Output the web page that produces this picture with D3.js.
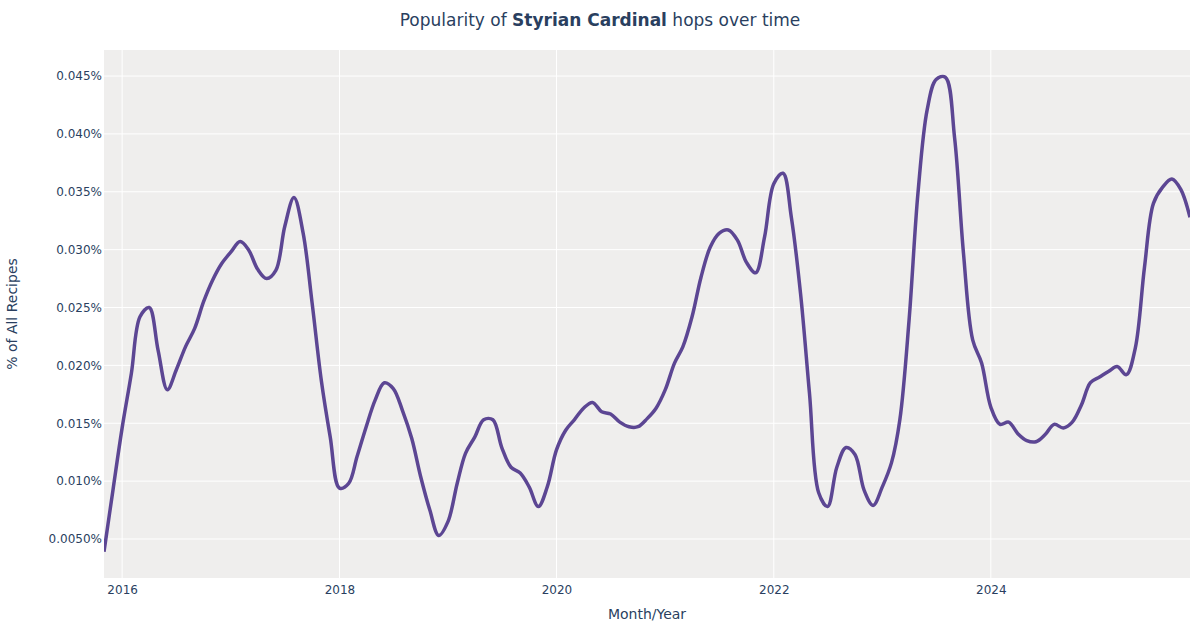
<!DOCTYPE html>
<html>
<head>
<meta charset="utf-8">
<script src="https://cdn.jsdelivr.net/npm/d3@7"></script>
<style>
  body { margin: 0; background: #fff; }
  text { font-family: "DejaVu Sans", sans-serif; fill: #2a3f5f; }
</style>
</head>
<body>
<svg id="chart" width="1200" height="630"></svg>
<script>
// monthly share of recipes (%), Nov 2015 .. Nov 2025
var startMonth = "2015-11"
var values = [
  0.0039, 0.0092,
  0.0146, 0.0193, 0.0242, 0.0250, 0.0213, 0.0179, 0.0196, 0.0216, 0.0232, 0.0255, 0.0274, 0.0288,
  0.0298, 0.0307, 0.0300, 0.0283, 0.0275, 0.0282, 0.0320, 0.0345, 0.0314, 0.0254, 0.0187, 0.0138,
  0.0094, 0.0098, 0.0121, 0.0147, 0.0170, 0.0185, 0.0180, 0.0161, 0.0137, 0.0104, 0.0075, 0.0053,
  0.0065, 0.0098, 0.0124, 0.0138, 0.0153, 0.0153, 0.0129, 0.0112, 0.0107, 0.0095, 0.0078, 0.0095,
  0.0127, 0.0144, 0.0153, 0.0163, 0.0168, 0.0160, 0.0158, 0.0151, 0.0147, 0.0147, 0.0154, 0.0163,
  0.0179, 0.0202, 0.0216, 0.0242, 0.0276, 0.0302, 0.0314, 0.0317, 0.0308, 0.0289, 0.0280, 0.0311,
  0.0357, 0.0366, 0.0328, 0.0262, 0.0176, 0.0090, 0.0078, 0.0112, 0.0129, 0.0123, 0.0092, 0.0079,
  0.0095, 0.0116, 0.0153, 0.0239, 0.0349, 0.0421, 0.0447, 0.0449, 0.0397, 0.0297, 0.0222, 0.0202,
  0.0164, 0.0149, 0.0151, 0.0141, 0.0135, 0.0134, 0.0140, 0.0149, 0.0146, 0.0151, 0.0166, 0.0185,
  0.0190, 0.0195, 0.0199, 0.0192, 0.0215, 0.0285, 0.0340, 0.0354, 0.0361, 0.0352, 0.0328
]
var yTicks = [0.005, 0.010, 0.015, 0.020, 0.025, 0.030, 0.035, 0.040, 0.045]
var yTickLabels = ["0.0050%", "0.010%", "0.015%", "0.020%", "0.025%", "0.030%", "0.035%", "0.040%", "0.045%"]
var xTickYears = [2016, 2018, 2020, 2022, 2024]

var parseMonth = d3.timeParse("%Y-%m")
var t0 = parseMonth(startMonth)
var data = values.map((v, i) => ({ date: d3.timeMonth.offset(t0, i), value: v }))

var dimensions = {
    width: 1200,
    height: 630,
    margin: { top: 50, bottom: 52, left: 104, right: 10 }
}
var plotW = dimensions.width - dimensions.margin.left - dimensions.margin.right
var plotH = dimensions.height - dimensions.margin.top - dimensions.margin.bottom

var svg = d3.select("#chart")

var xScale = d3.scaleTime()
        .domain(d3.extent(data, d => d.date))
        .range([dimensions.margin.left, dimensions.margin.left + plotW])

var yScale = d3.scaleLinear()
        .domain([0.00163, 0.04725])
        .range([dimensions.margin.top + plotH, dimensions.margin.top])

svg.append("rect")
        .attr("x", dimensions.margin.left)
        .attr("y", dimensions.margin.top)
        .attr("width", plotW)
        .attr("height", plotH)
        .attr("fill", "#efeeed")

// grid
svg.append("g")
        .selectAll("line")
        .data(yTicks)
        .enter()
        .append("line")
        .attr("x1", dimensions.margin.left)
        .attr("x2", dimensions.margin.left + plotW)
        .attr("y1", d => yScale(d))
        .attr("y2", d => yScale(d))
        .attr("stroke", "#fff")
        .attr("stroke-width", 1)

var xTickDates = xTickYears.map(y => new Date(y, 0, 1))
svg.append("g")
        .selectAll("line")
        .data(xTickDates)
        .enter()
        .append("line")
        .attr("x1", d => xScale(d))
        .attr("x2", d => xScale(d))
        .attr("y1", dimensions.margin.top)
        .attr("y2", dimensions.margin.top + plotH)
        .attr("stroke", "#fff")
        .attr("stroke-width", 1)

// axes
var xAxisGen = d3.axisBottom(xScale).tickValues(xTickDates).tickFormat(d3.timeFormat("%Y")).tickSize(0).tickPadding(7)
var xAxis = svg.append("g")
        .attr("transform", `translate(0,${dimensions.margin.top + plotH})`)
        .call(xAxisGen)
xAxis.select(".domain").remove()
xAxis.selectAll("text").style("font-size", "12px").style("fill", "#2a3f5f")

var yAxisGen = d3.axisLeft(yScale).tickValues(yTicks).tickFormat((d, i) => yTickLabels[i]).tickSize(0).tickPadding(2)
var yAxis = svg.append("g")
        .attr("transform", `translate(${dimensions.margin.left},0)`)
        .call(yAxisGen)
yAxis.select(".domain").remove()
yAxis.selectAll("text").style("font-size", "12px").style("fill", "#2a3f5f")

// line
var clip = svg.append("clipPath").attr("id", "plotclip")
        .append("rect")
        .attr("x", dimensions.margin.left)
        .attr("y", dimensions.margin.top)
        .attr("width", plotW)
        .attr("height", plotH)

var lineGen = d3.line()
        .x(d => xScale(d.date))
        .y(d => yScale(d.value))
        .curve(d3.curveCatmullRom.alpha(0.5))

svg.append("path")
        .datum(data)
        .attr("clip-path", "url(#plotclip)")
        .attr("d", lineGen)
        .attr("fill", "none")
        .attr("stroke", "#5c4693")
        .attr("stroke-width", 3.5)
        .attr("stroke-linejoin", "round")

// titles
var title = svg.append("text")
        .attr("x", 600)
        .attr("y", 26)
        .attr("text-anchor", "middle")
        .style("font-size", "17px")
title.append("tspan").text("Popularity of ")
title.append("tspan").style("font-weight", "bold").text("Styrian Cardinal")
title.append("tspan").text(" hops over time")

svg.append("text")
        .attr("x", dimensions.margin.left + plotW / 2)
        .attr("y", 619)
        .attr("text-anchor", "middle")
        .style("font-size", "14px")
        .text("Month/Year")

svg.append("text")
        .attr("transform", "rotate(-90)")
        .attr("x", -(dimensions.margin.top + plotH / 2))
        .attr("y", 17)
        .attr("text-anchor", "middle")
        .style("font-size", "14px")
        .text("% of All Recipes")
</script>
</body>
</html>
